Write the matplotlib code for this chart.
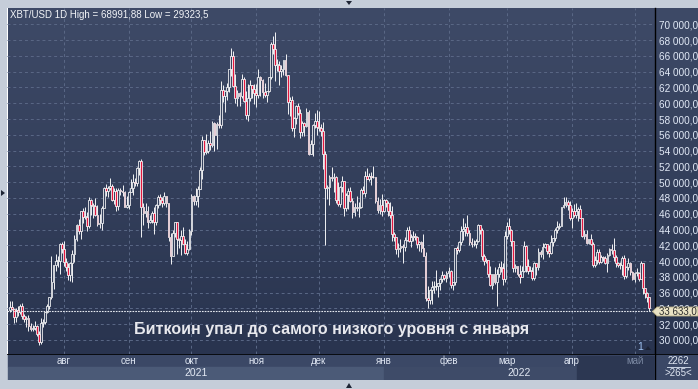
import numpy as np
import pandas as pd
import matplotlib
matplotlib.use("Agg")
import matplotlib.pyplot as plt
from matplotlib.colors import LinearSegmentedColormap
from matplotlib.patches import Rectangle, Polygon

plt.rcParams['font.family'] = ['Liberation Sans', 'DejaVu Sans']

W, H = 698, 389

# XBT/USD daily candles, thousands of USD, 2021-07-06 .. 2022-05-08
first_open = 33.8
closes = [
    34.2, 33.9, 32.9, 33.8, 33.5, 34.3, 33.1, 32.7, 32.8, 31.8, 31.4, 31.5, 31.8, 30.8, 29.8, 32.1, 32.3, 33.6, 34.3, 35.4, 37.3, 39.5, 40.0, 40.0, 42.2, 41.5,
    39.9, 39.2, 38.2, 39.7, 40.9, 42.8, 44.6, 43.8, 46.3, 45.6, 45.6, 44.4, 47.8, 47.1, 47.0, 45.9, 44.7, 44.8, 46.7, 49.3, 48.9, 49.3, 49.5, 47.7, 48.9, 47.0, 49.0, 48.9, 48.8, 46.9, 47.1,
    48.8, 49.3, 50.0, 49.9, 51.8, 52.7, 46.8, 46.1, 46.4, 44.9, 45.2, 46.1, 44.9, 47.1, 48.1, 47.8, 47.3, 48.3, 47.3, 43.0, 40.7, 43.6, 44.9, 42.8, 42.7, 43.2, 42.2, 41.0, 41.5, 43.8,
    48.2, 47.6, 48.2, 49.1, 51.5, 55.3, 53.8, 53.9, 55.0, 54.7, 57.5, 56.0, 57.4, 57.3, 61.7, 60.9, 61.5, 62.0, 64.3, 66.0, 62.2, 60.7, 61.3, 60.9, 63.1, 60.3, 58.5, 60.6, 62.3, 61.8, 61.3,
    61.0, 63.3, 62.9, 61.4, 61.0, 61.5, 63.3, 67.5, 66.9, 64.9, 64.9, 64.1, 64.4, 65.5, 63.6, 60.1, 60.4, 56.9, 58.1, 59.7, 58.7, 56.3, 57.5, 57.1, 58.9, 53.6, 54.8, 57.2, 57.8, 57.0,
    56.9, 56.5, 53.6, 49.2, 49.4, 50.6, 50.5, 50.6, 47.7, 47.2, 49.4, 50.1, 46.7, 48.4, 48.9, 47.6, 46.2, 46.8, 46.7, 46.9, 49.0, 48.6, 50.8, 50.4, 50.8, 50.7, 50.6, 47.6, 46.5, 47.1, 46.3,
    47.7, 47.3, 46.4, 45.8, 43.4, 43.1, 41.5, 41.7, 41.9, 41.8, 42.7, 43.9, 42.6, 43.1, 43.2, 43.1, 42.2, 42.4, 41.7, 40.7, 35.3, 35.1, 36.3, 36.7, 36.9, 36.8, 37.2, 37.7, 38.2, 37.9, 38.5,
    38.7, 37.0, 37.3, 41.6, 41.4, 42.4, 43.8, 44.1, 44.3, 43.6, 42.4, 42.2, 42.1, 42.6, 44.6, 43.9, 40.6, 40.0, 40.1, 38.4, 37.0, 38.3, 37.3, 38.3, 39.2, 39.1, 37.7, 43.2,
    44.4, 44.0, 42.5, 39.1, 39.4, 38.4, 38.0, 38.7, 41.9, 39.4, 38.8, 38.8, 37.8, 39.7, 39.3, 41.1, 40.9, 41.8, 42.2, 41.3, 41.0, 42.4, 42.9, 44.0, 44.3, 44.5, 46.8, 47.1, 47.5, 47.1, 45.5,
    46.3, 45.8, 46.4, 46.6, 45.5, 43.2, 43.4, 42.3, 42.8, 42.2, 39.5, 40.1, 41.1, 39.9, 40.5, 40.4, 39.7, 40.8, 41.5, 41.4, 40.5, 39.7, 39.5, 39.5, 40.4, 38.1, 39.2, 39.7, 38.6, 37.7,
    38.5, 38.5, 37.7, 39.7, 36.6, 36.0, 35.5, 34.1,
]
highs = [
    35.0, 35.0, 33.9, 34.1, 34.3, 34.6, 34.7, 33.3, 33.1, 33.2, 32.2, 31.9, 32.4, 31.9, 31.1, 32.8, 32.6, 33.6, 34.5, 35.4, 40.6, 39.5, 40.9, 40.6, 42.3, 42.4,
    42.6, 40.4, 39.8, 39.9, 41.4, 43.3, 44.7, 45.3, 46.4, 46.7, 46.8, 46.2, 48.1, 47.9, 47.4, 48.0, 47.1, 46.0, 47.0, 49.4, 49.8, 49.5, 50.5, 49.8, 49.3, 49.3, 49.2, 49.3, 49.7, 48.9, 48.2,
    48.9, 50.4, 51.0, 50.5, 51.9, 52.8, 52.9, 47.3, 47.3, 47.0, 45.9, 46.4, 46.8, 47.2, 48.4, 48.5, 48.1, 48.8, 48.3, 47.3, 43.6, 44.0, 44.9, 45.0, 42.9, 43.9, 44.3, 42.8, 42.6, 44.1,
    48.5, 48.4, 49.3, 49.5, 51.9, 55.8, 55.3, 56.1, 55.4, 56.5, 57.8, 57.6, 57.6, 58.5, 62.8, 62.3, 61.7, 62.6, 64.4, 67.0, 66.6, 63.7, 61.7, 61.4, 63.7, 63.3, 61.5, 62.4, 62.9, 62.3, 62.4,
    62.4, 64.3, 63.5, 63.1, 62.6, 61.6, 63.3, 67.8, 68.5, 68.99, 65.6, 65.4, 64.9, 65.5, 66.3, 63.6, 60.8, 60.9, 58.3, 59.8, 60.0, 59.3, 57.8, 57.6, 59.4, 59.2, 55.3, 57.4, 58.8, 59.2,
    59.0, 57.4, 57.6, 53.9, 49.7, 50.9, 51.9, 51.2, 50.8, 50.0, 49.5, 50.8, 50.2, 48.6, 49.3, 49.4, 48.0, 47.3, 48.3, 47.5, 49.3, 49.5, 51.4, 51.8, 51.2, 51.3, 52.0, 50.7, 48.1, 47.9, 48.5,
    47.9, 47.9, 47.6, 47.5, 47.0, 43.7, 43.1, 42.3, 42.8, 42.2, 43.0, 44.3, 44.4, 43.4, 43.8, 43.5, 43.2, 42.6, 42.6, 43.4, 41.1, 36.8, 36.4, 37.5, 37.5, 38.9, 37.2, 37.9, 38.7, 38.3, 38.7,
    39.2, 38.9, 37.4, 41.7, 41.9, 42.6, 44.5, 45.4, 44.8, 45.8, 43.9, 42.9, 42.7, 42.8, 44.7, 44.6, 44.2, 40.9, 40.4, 40.1, 39.4, 38.4, 39.2, 39.0, 39.7, 40.0, 39.8, 43.8,
    44.9, 45.4, 44.1, 42.5, 39.6, 39.4, 39.5, 39.4, 42.5, 42.0, 40.2, 39.4, 39.3, 39.9, 39.8, 41.7, 41.4, 42.3, 42.3, 42.2, 42.0, 43.3, 42.9, 44.2, 45.1, 44.8, 46.9, 48.1, 48.1, 47.7, 47.6,
    46.7, 47.2, 47.4, 46.9, 47.1, 45.5, 43.9, 43.9, 42.8, 43.4, 42.4, 40.7, 41.5, 41.5, 40.8, 40.6, 40.6, 41.0, 41.7, 42.2, 42.9, 40.8, 39.9, 39.9, 40.6, 40.8, 39.4, 40.4, 39.9, 38.8,
    38.6, 39.1, 38.6, 40.0, 39.8, 36.6, 36.1, 35.5,
]
lows = [
    33.5, 33.8, 32.1, 32.3, 33.1, 33.3, 32.7, 32.3, 31.6, 31.2, 31.1, 31.2, 31.3, 30.5, 29.32, 29.5, 31.7, 32.0, 33.4, 33.9, 35.2, 36.4, 38.8, 39.3, 38.3, 41.0,
    39.4, 38.7, 37.6, 37.5, 37.3, 39.9, 42.5, 43.4, 42.8, 44.8, 45.3, 43.8, 44.2, 45.9, 45.5, 45.7, 44.4, 44.2, 43.9, 46.7, 48.3, 48.1, 49.0, 47.6, 47.2, 46.4, 46.5, 48.4, 48.3, 46.9, 46.7,
    46.6, 48.7, 48.4, 49.5, 49.5, 50.9, 43.0, 44.6, 45.6, 44.2, 44.8, 44.8, 43.4, 44.6, 46.7, 47.1, 46.8, 47.1, 46.9, 42.6, 39.6, 40.6, 43.1, 40.9, 41.7, 40.8, 42.1, 40.9, 40.8, 41.4,
    43.3, 47.1, 47.1, 46.9, 49.1, 50.4, 53.4, 53.6, 53.7, 54.1, 54.4, 53.9, 54.2, 56.8, 56.9, 60.2, 58.9, 60.4, 61.4, 63.5, 62.1, 60.0, 59.7, 59.6, 60.7, 60.1, 58.0, 57.8, 60.3, 60.7, 59.9,
    59.5, 60.7, 60.9, 60.7, 60.8, 60.1, 61.4, 63.1, 66.3, 62.8, 64.1, 62.3, 63.3, 63.6, 63.4, 58.6, 58.4, 56.5, 55.7, 57.4, 58.5, 55.6, 55.9, 55.9, 57.0, 53.5, 53.7, 53.3, 56.8, 56.0,
    56.5, 55.9, 51.7, 42.0, 47.9, 47.1, 50.1, 48.7, 47.3, 47.0, 46.9, 48.7, 45.7, 46.4, 46.6, 47.5, 45.5, 45.7, 46.4, 45.6, 46.7, 48.5, 48.1, 50.4, 50.2, 49.6, 50.5, 47.4, 46.1, 46.0, 45.7,
    46.2, 46.9, 45.7, 45.5, 42.6, 42.5, 40.9, 40.5, 41.2, 39.7, 41.3, 42.5, 42.4, 41.8, 42.6, 42.7, 41.6, 41.3, 41.2, 40.6, 34.9, 34.0, 34.6, 34.5, 36.0, 36.3, 35.5, 36.3, 37.4, 37.6, 37.4,
    38.0, 36.6, 36.3, 37.0, 40.9, 41.1, 42.0, 42.7, 43.2, 43.2, 42.0, 41.8, 41.9, 41.6, 42.4, 43.4, 40.1, 39.5, 39.7, 38.0, 36.8, 36.4, 37.1, 34.3, 38.0, 38.6, 37.0, 37.4,
    42.8, 43.4, 41.9, 38.6, 38.6, 38.1, 37.2, 38.0, 38.6, 38.6, 38.3, 38.7, 37.6, 37.6, 38.2, 38.9, 40.5, 40.2, 41.6, 40.9, 40.5, 40.9, 41.9, 42.6, 43.6, 44.1, 44.4, 46.7, 46.9, 46.5, 45.2,
    44.2, 45.6, 45.5, 45.1, 45.4, 43.1, 42.8, 42.1, 42.1, 42.0, 39.2, 39.3, 39.6, 39.6, 39.8, 40.0, 39.6, 38.6, 40.6, 40.9, 40.0, 39.3, 39.3, 39.0, 38.2, 37.7, 37.9, 38.9, 38.2, 37.6,
    37.4, 38.1, 37.5, 37.7, 35.8, 35.3, 34.8, 33.633,
]
assert len(closes) == len(highs) == len(lows)

last_price = 33633.0
month_labels = ['авг', 'сен', 'окт', 'ноя', 'дек', 'янв', 'фев', 'мар', 'апр', 'май']
year_labels = ['2021', '2022']

origin = pd.Timestamp('2021-08-01')
dates = pd.date_range('2021-07-06', periods=len(closes), freq='D')
x = np.asarray((dates - origin).days, dtype=float)
c = np.array(closes) * 1000
o = np.r_[first_open, closes[:-1]] * 1000
hi = np.array(highs) * 1000
lo = np.array(lows) * 1000

month_starts = pd.date_range('2021-08-01', periods=len(month_labels), freq='MS')
mx = np.asarray((month_starts - origin).days, dtype=float)
year_start = float((pd.Timestamp('2022-01-01') - origin).days)

px_per_day = 2.09
x0 = 64.0  # pixel of 2021-08-01
left_px, right_px, top_px, bot_px = 7.5, 655.3, 7.5, 354.0
xmin = (left_px - x0) / px_per_day
xmax = (right_px - x0) / px_per_day
px_per_k = 7.89
ymax = 70000 + (24.3 - top_px) / px_per_k * 1000
ymin = 30000 - (bot_px - 340.0) / px_per_k * 1000


def rect(l, t, r, b):
    return [l / W, 1 - b / H, (r - l) / W, (b - t) / H]


def fp(px, py):
    return (px / W, 1 - py / H)


bg_top, bg_bot = '#3e4a67', '#29344f'
grad = LinearSegmentedColormap.from_list('bg', [bg_top, bg_bot])
gimg = np.linspace(0, 1, 256).reshape(-1, 1)

fig = plt.figure(figsize=(W / 100, H / 100), dpi=100, facecolor='#c5cdd9')

# right price panel background
axr = fig.add_axes(rect(right_px, top_px, W + 2, bot_px))
axr.imshow(gimg, cmap=grad, extent=[0, 1, 0, 1], aspect='auto')
axr.set_axis_off()

ax = fig.add_axes(rect(left_px, top_px, right_px, bot_px))
ax.imshow(gimg, cmap=grad, extent=[xmin, xmax, ymin, ymax], aspect='auto', zorder=0)
ax.set_xlim(xmin, xmax)
ax.set_ylim(ymin, ymax)

# grid
yt = np.arange(30000, 70001, 2000)
for v in yt:
    ax.axhline(v, color='#5a6886', lw=0.7, ls=(0, (3, 3)), zorder=1)
for v in mx:
    ax.axvline(v, color='#5a6886', lw=0.7, ls=(0, (3, 3)), zorder=1)

# candles: hollow white = up, red = down
up = c >= o
body_lo = np.minimum(o, c)
body_hi = np.maximum(o, c)
ax.vlines(x, body_hi, hi, color='white', lw=0.65, zorder=2)
ax.vlines(x, lo, body_lo, color='white', lw=0.65, zorder=2)
heights = np.maximum(body_hi - body_lo, 80)
ax.bar(x[up], heights[up], bottom=body_lo[up], width=0.85, facecolor='#34405c',
       edgecolor='white', linewidth=0.55, zorder=3)
ax.bar(x[~up], heights[~up], bottom=body_lo[~up], width=0.85, facecolor='#e3173e',
       edgecolor='white', linewidth=0.55, zorder=3)

# last price line
ax.axhline(last_price, color='#e6e9f0', lw=0.8, ls=(0, (1.5, 1)), zorder=4)

ax.set_xticks([])
ax.yaxis.tick_right()
ax.set_yticks(yt)
ax.set_yticklabels([f'{v:,.2f}'.replace(',', ' ').replace('.', ',') for v in yt],
                   fontsize=7.2, color='#e2eaf7')
ax.tick_params(axis='y', length=0, pad=3)
for s in ['top', 'left', 'bottom']:
    ax.spines[s].set_visible(False)
ax.spines['right'].set_color('black')
ax.spines['right'].set_linewidth(1.0)

ax.text(0.5, 0.07, 'Биткоин упал до самого низкого уровня с января',
        transform=ax.transAxes, ha='center', va='center', fontsize=11.5,
        fontweight='bold', color='#e8e9ee', zorder=5)

# date band
axd = fig.add_axes(rect(left_px, bot_px, right_px, 380))
axd.set_xlim(xmin, xmax)
axd.set_ylim(0, 2)
axd.add_patch(Rectangle((xmin, 1), xmax - xmin, 1, color='#3b4866', zorder=0))
axd.add_patch(Rectangle((xmin, 0), year_start - xmin, 1, color='#4b5a77', zorder=0))
axd.add_patch(Rectangle((year_start, 0), xmax - year_start, 1, color='#3e4b68', zorder=0))
thumb = (577 - x0) / px_per_day
axd.add_patch(Rectangle((thumb, 0), xmax - thumb, 1.85, color='#2c3752', zorder=1))
for m, lab in zip(mx, month_labels):
    col = '#7d8aa4' if m > thumb else '#dfe6f2'
    axd.text(m, 1.45, lab, ha='center', va='center', fontsize=7, color=col, zorder=2)
axd.text((xmin + year_start) / 2, 0.5, year_labels[0], ha='center', va='center',
         fontsize=7.5, color='#e3e9f4', zorder=2)
axd.text((year_start + xmax) / 2, 0.5, year_labels[1], ha='center', va='center',
         fontsize=7.5, color='#e3e9f4', zorder=2)
axd.axhline(2, color='black', lw=1.2, zorder=3)
axd.set_axis_off()

# corner box
axc = fig.add_axes(rect(right_px, bot_px, W + 2, 380))
axc.set_xlim(0, 1)
axc.set_ylim(0, 1)
axc.add_patch(Rectangle((0, 0), 1, 1, color='#3b4866'))
axc.plot([0.27, 0.77], [0.5, 0.5], color='#c8d2e2', lw=0.7)
axc.text(0.52, 0.74, '2262', ha='center', va='center', fontsize=7, color='#dfe6f2')
axc.text(0.52, 0.25, '>265<', ha='center', va='center', fontsize=7, color='#dfe6f2')
axc.axvline(0, color='black', lw=1.0)
axc.axhline(1, color='black', lw=1.2)
axc.set_axis_off()

# price tag
tag = Polygon([fp(652.5, 311.5), fp(657, 307), fp(W, 307), fp(W, 316), fp(657, 316)],
              closed=True, transform=fig.transFigure, facecolor='#e9e2c4',
              edgecolor='#b7ae86', lw=0.6, zorder=10)
fig.patches.append(tag)
fig.text(*fp(659, 311.5), '33 633,0', ha='left', va='center', fontsize=7,
         color='#2b2b2b', zorder=11)

# header
fig.text(*fp(10, 15), 'XBT/USD 1D High = 68991,88 Low = 29323,5', ha='left',
         va='center', fontsize=7, color='#f2f4f8', zorder=11)

# small markers
fig.text(*fp(640, 347), '1', ha='center', va='center', fontsize=7.5,
         color='#9fc3f2', zorder=11)
for pts in ([(645, 350), (651, 350), (648, 346)],
            [(346, 1), (352, 1), (349, 5)],
            [(346, 388), (352, 388), (349, 383)],
            [(1, 190), (1, 196), (5, 193)]):
    fig.patches.append(Polygon([fp(*p) for p in pts], closed=True,
                               transform=fig.transFigure, facecolor='#1d2434',
                               edgecolor='none', zorder=11))

fig.savefig('out.png', dpi=100, facecolor=fig.get_facecolor())
